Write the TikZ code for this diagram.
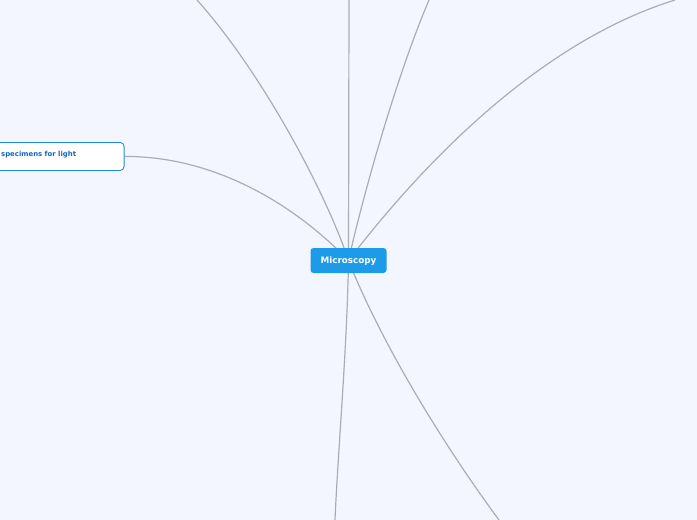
\documentclass[tikz,border=0pt]{standalone}
\usepackage{fontspec}
\setmainfont{DejaVu Sans}
\usetikzlibrary{backgrounds}
\definecolor{bgc}{HTML}{F3F6FE}
\definecolor{mainblue}{HTML}{1E9BE8}
\definecolor{borderblue}{HTML}{1E88E5}
\definecolor{textblue}{HTML}{1565C0}
\definecolor{linec}{HTML}{ABADB4}
\tikzset{
  central/.style={draw=none, fill=mainblue, rounded corners=3pt, minimum width=76pt, minimum height=25pt, inner sep=0pt, text depth=0pt, text=white, font=\fontsize{8.8}{10}\selectfont\bfseries},
  subbox/.style={draw=borderblue, line width=0.9pt, fill=white, rounded corners=4pt, minimum width=145pt, minimum height=28pt, inner sep=0pt},
  subtext/.style={inner sep=0pt, text=textblue, font=\fontsize{6.9}{8}\selectfont\bfseries},
  conn/.style={draw=linec, line width=1.2pt}
}
\begin{document}
\begin{tikzpicture}[x=1pt,y=-1pt]
\useasboundingbox (0,0) rectangle (697,520);
\node[central] (micro) at (348.5,260.5) {Microscopy};
\node[subbox, anchor=north east] (spec) at (124.5,142) {};
\node[subtext, anchor=base west] (spectext) at (1,156) {specimens for light};
\coordinate (t1) at (197,0);
\coordinate (t2) at (349,0);
\coordinate (t3) at (429,0);
\coordinate (t4) at (675,0);
\coordinate (b1) at (335,520);
\coordinate (b2) at (499,520);
\begin{scope}[on background layer]
\fill[bgc] (0,0) rectangle (697,520);
\draw[conn] (micro.center) .. controls (325,190) and (260,70) .. (t1);
\draw[conn] (micro.center) -- (t2);
\draw[conn] (micro.center) .. controls (362,200) and (395,80) .. (t3);
\draw[conn] (micro.center) .. controls (410,180) and (530,45) .. (t4);
\draw[conn] (spec.east) .. controls (210,156) and (290,200) .. (micro.center);
\draw[conn] (micro.center) .. controls (347,350) and (338,450) .. (b1);
\draw[conn] (micro.center) .. controls (380,340) and (440,440) .. (b2);
\end{scope}
\end{tikzpicture}
\end{document}
